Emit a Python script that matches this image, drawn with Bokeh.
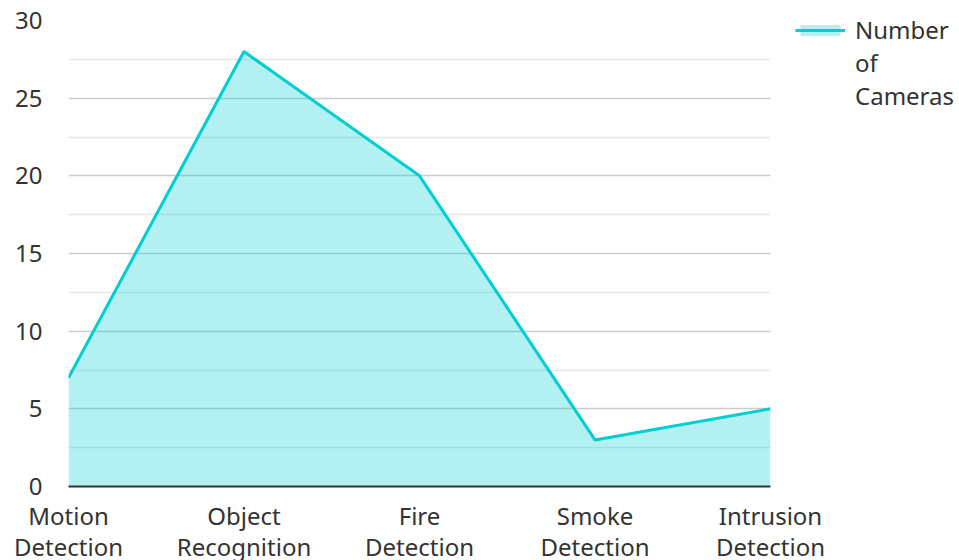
from bokeh.plotting import figure
from bokeh.models import Range1d, FixedTicker, Legend, LegendItem, ColumnDataSource
from bokeh.embed import file_html
from bokeh.resources import INLINE

categories = ["Motion\nDetection", "Object\nRecognition", "Fire\nDetection", "Smoke\nDetection", "Intrusion\nDetection"]
cameras = [7, 28, 20, 3, 5]
y_ticks = [0, 5, 10, 15, 20, 25, 30]
series_name_lines = ["Number", "of", "Cameras"]

xs = list(range(len(categories)))
src = ColumnDataSource(dict(x=xs, y=cameras, y0=[0] * len(xs)))

FONT = "Noto Sans"
FS = "24px"
TEXT = "#333333"
COLOR = "#00CED1"

p = figure(frame_width=702, frame_height=466, output_backend="svg", toolbar_location=None,
           x_range=Range1d(0, len(categories) - 1), y_range=Range1d(0, 30),
           min_border_left=68, min_border_top=20, min_border_bottom=10, min_border_right=10)
p.outline_line_color = None
p.background_fill_color = "white"

area = p.varea(x="x", y1="y0", y2="y", source=src, fill_color=COLOR, fill_alpha=0.3)
line = p.line(x="x", y="y", source=src, line_color=COLOR, line_width=3)

p.xaxis.ticker = FixedTicker(ticks=xs)
p.xaxis.major_label_overrides = {i: c for i, c in enumerate(categories)}
p.xaxis.axis_line_color = TEXT
p.xaxis.axis_line_width = 2
p.xaxis.major_tick_line_color = None
p.xaxis.minor_tick_line_color = None
p.xaxis.major_label_text_font = FONT
p.xaxis.major_label_text_font_size = FS
p.xaxis.major_label_text_color = TEXT
p.xaxis.major_label_text_line_height = 0.95
p.xaxis.major_label_standoff = 6

p.yaxis.ticker = FixedTicker(ticks=y_ticks, minor_ticks=[2.5 + 5 * i for i in range(6)])
p.yaxis.axis_line_color = None
p.yaxis.major_tick_line_color = None
p.yaxis.minor_tick_line_color = None
p.yaxis.major_label_text_font = FONT
p.yaxis.major_label_text_font_size = FS
p.yaxis.major_label_text_color = TEXT
p.yaxis.major_label_standoff = 20

p.xgrid.grid_line_color = None
p.ygrid.grid_line_color = "#cccccc"
p.ygrid.grid_line_width = 1.5
p.ygrid.minor_grid_line_color = "#e6e6e6"
p.ygrid.minor_grid_line_width = 1.5

items = [LegendItem(label=series_name_lines[0], renderers=[area, line])]
items += [LegendItem(label=t, renderers=[]) for t in series_name_lines[1:]]
legend = Legend(items=items, location=(25, 374), glyph_width=50, glyph_height=14,
                label_text_font=FONT, label_text_font_size=FS, label_text_color=TEXT,
                border_line_color=None, background_fill_alpha=0,
                margin=0, padding=0, spacing=0, label_standoff=10,
                label_height=32)
p.add_layout(legend, "right")
p.min_border_right = 190

open("out.html", "w").write(file_html(p, INLINE))
